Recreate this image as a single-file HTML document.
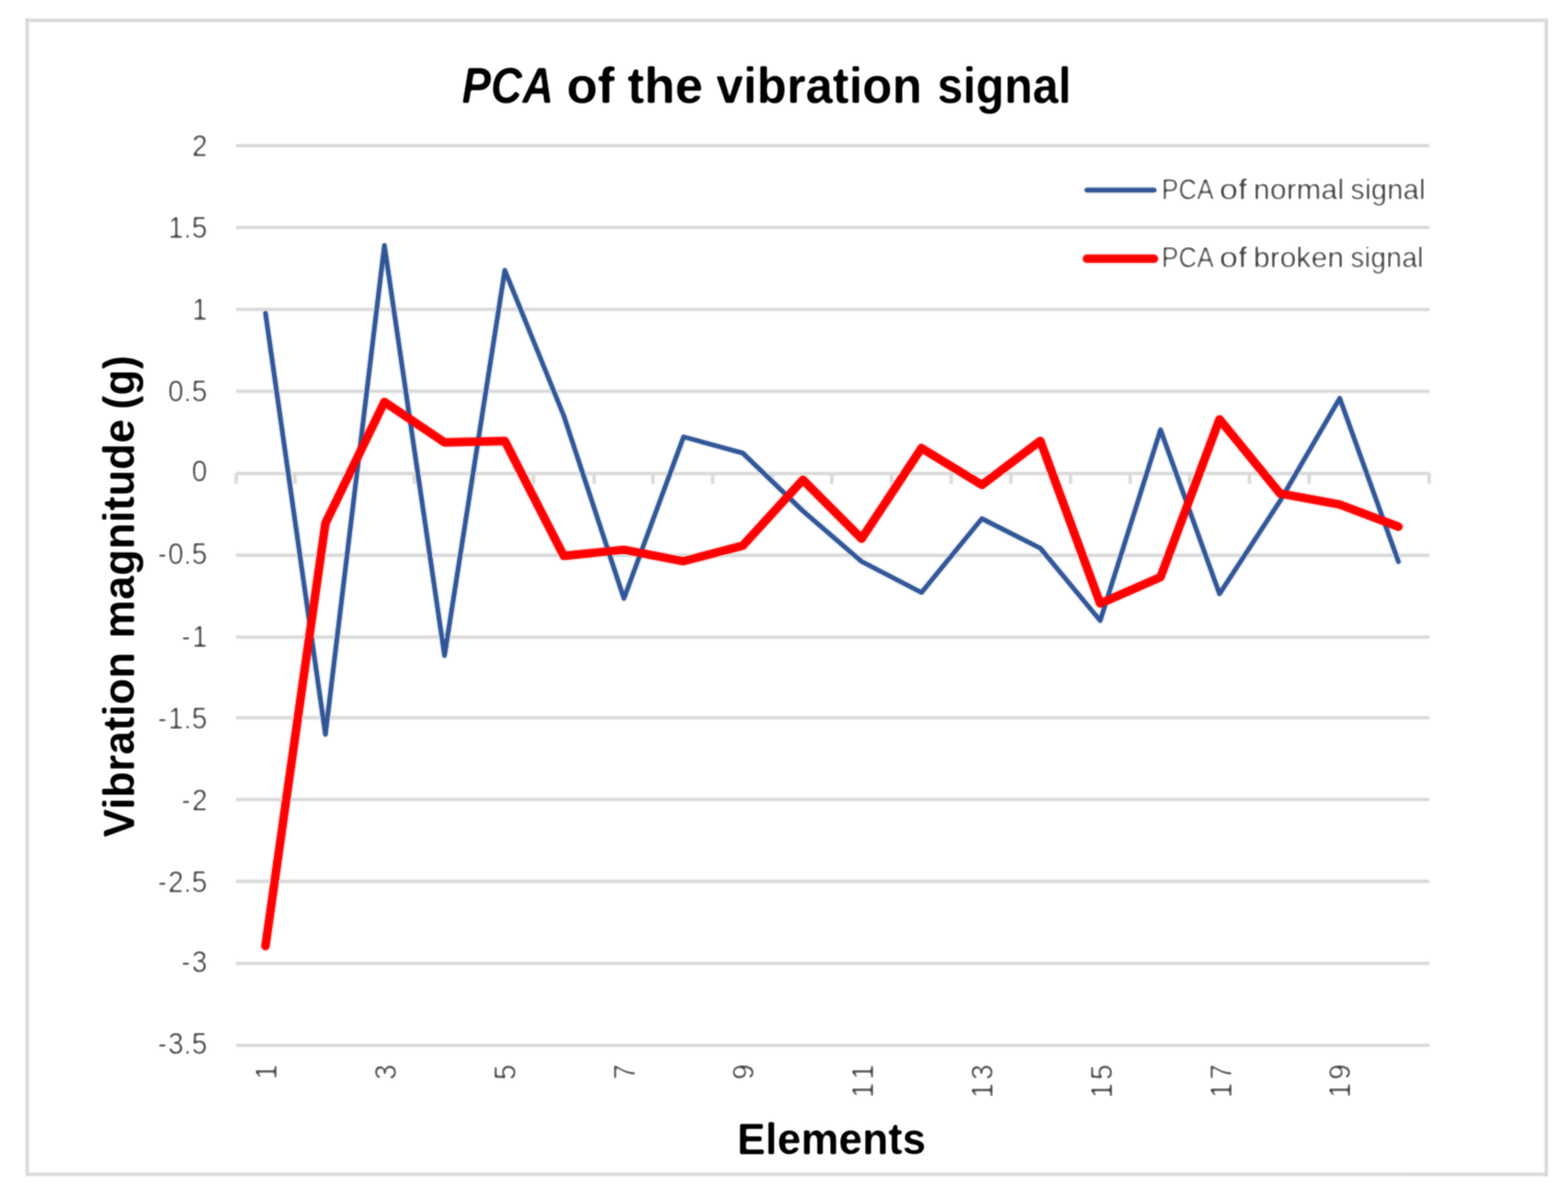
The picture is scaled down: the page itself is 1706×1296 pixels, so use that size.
<!DOCTYPE html>
<html lang="en">
<head>
<meta charset="utf-8">
<title>PCA of the vibration signal</title>
<style>
html,body{margin:0;padding:0;background:#ffffff;}
body{width:1706px;height:1296px;overflow:hidden;}
svg{display:block;}
text{white-space:pre;}
</style>
</head>
<body>
<svg width="1706" height="1296" viewBox="0 0 1706 1296">
<rect x="0" y="0" width="1706" height="1296" fill="#ffffff"/>
<defs><filter id="soft" x="0" y="0" width="1706" height="1296" filterUnits="userSpaceOnUse" color-interpolation-filters="sRGB"><feGaussianBlur stdDeviation="0.8"/></filter><filter id="thin" x="0" y="0" width="1706" height="1296" filterUnits="userSpaceOnUse" color-interpolation-filters="sRGB"><feGaussianBlur stdDeviation="0.8"/><feComponentTransfer><feFuncA type="linear" slope="1.7" intercept="-0.42"/></feComponentTransfer></filter><filter id="thinb" x="0" y="0" width="1706" height="1296" filterUnits="userSpaceOnUse" color-interpolation-filters="sRGB"><feGaussianBlur stdDeviation="0.8"/><feComponentTransfer><feFuncA type="linear" slope="1.5" intercept="-0.28"/></feComponentTransfer></filter></defs>
<use href="#chart" filter="url(#soft)"/>
<g opacity="0.7"><g id="chart">
<rect x="29.6" y="22.1" width="1652.8" height="1255.7" fill="none" stroke="#d9d9d9" stroke-width="3.1"/>
<rect x="28.2" y="20.6" width="1.8" height="1.8" fill="#bdbdbd"/>
<rect x="1682.2" y="1277.6" width="1.8" height="1.8" fill="#cbcbcb"/>
<g stroke="#d9d9d9" stroke-width="3.1" fill="none">
<line x1="257.0" y1="158.5" x2="1555.0" y2="158.5"/>
<line x1="257.0" y1="247.5" x2="1555.0" y2="247.5"/>
<line x1="257.0" y1="336.7" x2="1555.0" y2="336.7"/>
<line x1="257.0" y1="425.7" x2="1555.0" y2="425.7"/>
<line x1="257.0" y1="515.2" x2="1555.0" y2="515.2"/>
<line x1="257.0" y1="604.3" x2="1555.0" y2="604.3"/>
<line x1="257.0" y1="693.2" x2="1555.0" y2="693.2"/>
<line x1="257.0" y1="781.0" x2="1555.0" y2="781.0"/>
<line x1="257.0" y1="870.0" x2="1555.0" y2="870.0"/>
<line x1="257.0" y1="959.0" x2="1555.0" y2="959.0"/>
<line x1="257.0" y1="1048.3" x2="1555.0" y2="1048.3"/>
<line x1="257.0" y1="1137.5" x2="1555.0" y2="1137.5"/>
<line x1="257" y1="515.2" x2="257" y2="526.2"/>
<line x1="321" y1="515.2" x2="321" y2="526.2"/>
<line x1="385.9" y1="515.2" x2="385.9" y2="526.2"/>
<line x1="450.8" y1="515.2" x2="450.8" y2="526.2"/>
<line x1="515.7" y1="515.2" x2="515.7" y2="526.2"/>
<line x1="580.6" y1="515.2" x2="580.6" y2="526.2"/>
<line x1="646.4" y1="515.2" x2="646.4" y2="526.2"/>
<line x1="710.4" y1="515.2" x2="710.4" y2="526.2"/>
<line x1="775.3" y1="515.2" x2="775.3" y2="526.2"/>
<line x1="840.2" y1="515.2" x2="840.2" y2="526.2"/>
<line x1="905.1" y1="515.2" x2="905.1" y2="526.2"/>
<line x1="970" y1="515.2" x2="970" y2="526.2"/>
<line x1="1034.9" y1="515.2" x2="1034.9" y2="526.2"/>
<line x1="1099.8" y1="515.2" x2="1099.8" y2="526.2"/>
<line x1="1164.7" y1="515.2" x2="1164.7" y2="526.2"/>
<line x1="1229.6" y1="515.2" x2="1229.6" y2="526.2"/>
<line x1="1294.5" y1="515.2" x2="1294.5" y2="526.2"/>
<line x1="1359.4" y1="515.2" x2="1359.4" y2="526.2"/>
<line x1="1424.3" y1="515.2" x2="1424.3" y2="526.2"/>
<line x1="1489.2" y1="515.2" x2="1489.2" y2="526.2"/>
<line x1="1555" y1="515.2" x2="1555" y2="526.2"/>
</g>
<polyline points="288.85,340.85 354.05,799.2 418.25,267.05 483.65,713.4 549.25,294.05 613.45,452.5 678.85,651.2 743.75,475.35 808.15,493 873.55,556 937.45,611 1002.6,644.7 1068.25,564.35 1131.9,596.5 1197.05,675.4 1262.65,467.65 1326.85,646.2 1392.75,545 1457.65,433.35 1521.55,611.2" fill="none" stroke="#2f5597" stroke-width="4.6" stroke-linejoin="round" stroke-linecap="round"/>
<polyline points="288.85,1029.45 354.05,569.5 418.25,437.35 483.65,481.4 549.25,479.85 613.45,604.95 678.85,598.25 743.75,610.65 808.15,593.75 873.55,522.15 937.45,586.15 1002.6,487.65 1068.25,527.65 1131.9,479.85 1197.05,656.65 1262.65,628 1326.85,456.35 1392.75,537 1457.65,549 1521.55,573.15" fill="none" stroke="#ff0000" stroke-width="8.7" stroke-linejoin="round" stroke-linecap="round"/>
<line x1="1182.4" y1="206.9" x2="1255.8" y2="206.9" stroke="#2f5597" stroke-width="4.6" stroke-linecap="round"/>
<line x1="1182.6" y1="281.5" x2="1255.5" y2="281.5" stroke="#ff0000" stroke-width="8.7" stroke-linecap="round"/>
</g></g>
<g font-family='"Liberation Sans", sans-serif' filter="url(#thinb)">
<text y="111.7" font-size="55.6" fill="#000" font-weight="bold"><tspan x="502.55" textLength="99.96" lengthAdjust="spacingAndGlyphs" font-style="italic">PCA</tspan> <tspan x="616.61" textLength="52.11" lengthAdjust="spacingAndGlyphs">of</tspan> <tspan x="682.71" textLength="82.16" lengthAdjust="spacingAndGlyphs">the</tspan> <tspan x="779.36" textLength="223.76" lengthAdjust="spacingAndGlyphs">vibration</tspan> <tspan x="1019.79" textLength="145.76" lengthAdjust="spacingAndGlyphs">signal</tspan></text>
</g>
<g font-family='"Liberation Sans", sans-serif' filter="url(#thinb)">
<text y="1255.7" font-size="47.5" fill="#000" font-weight="bold"><tspan x="801.98" textLength="205.62" lengthAdjust="spacingAndGlyphs">Elements</tspan></text>
</g>
<g font-family='"Liberation Sans", sans-serif' filter="url(#thinb)">
<text transform="rotate(-90)" y="146" font-size="47.5" fill="#000" font-weight="bold"><tspan x="-911.25" textLength="201.53" lengthAdjust="spacingAndGlyphs">Vibration</tspan> <tspan x="-694.78" textLength="238.67" lengthAdjust="spacingAndGlyphs">magnitude</tspan> <tspan x="-445.59" textLength="58.92" lengthAdjust="spacingAndGlyphs">(g)</tspan></text>
</g>
<g font-family='"Liberation Sans", sans-serif' filter="url(#thin)">
<text y="216.5" font-size="31.6" fill="#505050"><tspan x="1263.67" textLength="55.41" lengthAdjust="spacingAndGlyphs">PCA</tspan> <tspan x="1326.77" textLength="30.17" lengthAdjust="spacingAndGlyphs">of</tspan> <tspan x="1363.75" textLength="98.78" lengthAdjust="spacingAndGlyphs">normal</tspan> <tspan x="1469.26" textLength="81.68" lengthAdjust="spacingAndGlyphs">signal</tspan></text>
<text y="291.1" font-size="31.6" fill="#505050"><tspan x="1263.67" textLength="55.41" lengthAdjust="spacingAndGlyphs">PCA</tspan> <tspan x="1326.77" textLength="30.17" lengthAdjust="spacingAndGlyphs">of</tspan> <tspan x="1363.76" textLength="98.54" lengthAdjust="spacingAndGlyphs">broken</tspan> <tspan x="1469.28" textLength="79.61" lengthAdjust="spacingAndGlyphs">signal</tspan></text>
</g>
<g font-family='"Liberation Sans", sans-serif' filter="url(#thin)">
<text y="169.8" font-size="32.3" fill="#505050"><tspan x="208.7" textLength="17.10" lengthAdjust="spacingAndGlyphs">2</tspan></text>
<text y="259" font-size="32.3" fill="#505050"><tspan x="182.76" textLength="42.73" lengthAdjust="spacingAndGlyphs">1.5</tspan></text>
<text y="348.2" font-size="32.3" fill="#505050"><tspan x="208.7" textLength="17.10" lengthAdjust="spacingAndGlyphs">1</tspan></text>
<text y="437.2" font-size="32.3" fill="#505050"><tspan x="182.76" textLength="42.73" lengthAdjust="spacingAndGlyphs">0.5</tspan></text>
<text y="524.3" font-size="32.3" fill="#505050"><tspan x="208.46" textLength="17.10" lengthAdjust="spacingAndGlyphs">0</tspan></text>
<text y="613.9" font-size="32.3" fill="#505050"><tspan x="171.38" textLength="10.24" lengthAdjust="spacingAndGlyphs">-</tspan><tspan x="182.76" textLength="42.73" lengthAdjust="spacingAndGlyphs">0.5</tspan></text>
<text y="703.7" font-size="32.3" fill="#505050"><tspan x="197.31" textLength="10.24" lengthAdjust="spacingAndGlyphs">-</tspan><tspan x="208.7" textLength="17.10" lengthAdjust="spacingAndGlyphs">1</tspan></text>
<text y="793.2" font-size="32.3" fill="#505050"><tspan x="171.38" textLength="10.24" lengthAdjust="spacingAndGlyphs">-</tspan><tspan x="182.76" textLength="42.73" lengthAdjust="spacingAndGlyphs">1.5</tspan></text>
<text y="881.5" font-size="32.3" fill="#505050"><tspan x="197.31" textLength="10.24" lengthAdjust="spacingAndGlyphs">-</tspan><tspan x="208.7" textLength="17.10" lengthAdjust="spacingAndGlyphs">2</tspan></text>
<text y="970.5" font-size="32.3" fill="#505050"><tspan x="171.38" textLength="10.24" lengthAdjust="spacingAndGlyphs">-</tspan><tspan x="182.76" textLength="42.73" lengthAdjust="spacingAndGlyphs">2.5</tspan></text>
<text y="1057.9" font-size="32.3" fill="#505050"><tspan x="197.08" textLength="10.24" lengthAdjust="spacingAndGlyphs">-</tspan><tspan x="208.46" textLength="17.10" lengthAdjust="spacingAndGlyphs">3</tspan></text>
<text y="1147.1" font-size="32.3" fill="#505050"><tspan x="171.38" textLength="10.24" lengthAdjust="spacingAndGlyphs">-</tspan><tspan x="182.76" textLength="42.73" lengthAdjust="spacingAndGlyphs">3.5</tspan></text>
</g>
<g font-family='"Liberation Sans", sans-serif' filter="url(#thin)">
<text transform="rotate(-90)" y="301.25" font-size="32.3" fill="#505050"><tspan x="-1175" textLength="17.10" lengthAdjust="spacingAndGlyphs">1</tspan></text>
<text transform="rotate(-90)" y="431.05" font-size="32.3" fill="#505050"><tspan x="-1175.24" textLength="17.10" lengthAdjust="spacingAndGlyphs">3</tspan></text>
<text transform="rotate(-90)" y="560.85" font-size="32.3" fill="#505050"><tspan x="-1175.24" textLength="17.10" lengthAdjust="spacingAndGlyphs">5</tspan></text>
<text transform="rotate(-90)" y="690.65" font-size="32.3" fill="#505050"><tspan x="-1175" textLength="17.10" lengthAdjust="spacingAndGlyphs">7</tspan></text>
<text transform="rotate(-90)" y="820.45" font-size="32.3" fill="#505050"><tspan x="-1175" textLength="17.10" lengthAdjust="spacingAndGlyphs">9</tspan></text>
<text transform="rotate(-90)" y="950.25" font-size="32.3" fill="#505050"><tspan x="-1194.9" textLength="17.10" lengthAdjust="spacingAndGlyphs">1</tspan><tspan x="-1175" textLength="17.10" lengthAdjust="spacingAndGlyphs">1</tspan></text>
<text transform="rotate(-90)" y="1080.05" font-size="32.3" fill="#505050"><tspan x="-1195.14" textLength="17.10" lengthAdjust="spacingAndGlyphs">1</tspan><tspan x="-1175.24" textLength="17.10" lengthAdjust="spacingAndGlyphs">3</tspan></text>
<text transform="rotate(-90)" y="1209.85" font-size="32.3" fill="#505050"><tspan x="-1195.14" textLength="17.10" lengthAdjust="spacingAndGlyphs">1</tspan><tspan x="-1175.24" textLength="17.10" lengthAdjust="spacingAndGlyphs">5</tspan></text>
<text transform="rotate(-90)" y="1339.65" font-size="32.3" fill="#505050"><tspan x="-1194.9" textLength="17.10" lengthAdjust="spacingAndGlyphs">1</tspan><tspan x="-1175" textLength="17.10" lengthAdjust="spacingAndGlyphs">7</tspan></text>
<text transform="rotate(-90)" y="1469.45" font-size="32.3" fill="#505050"><tspan x="-1194.9" textLength="17.10" lengthAdjust="spacingAndGlyphs">1</tspan><tspan x="-1175" textLength="17.10" lengthAdjust="spacingAndGlyphs">9</tspan></text>
</g>
</svg>
</body>
</html>
